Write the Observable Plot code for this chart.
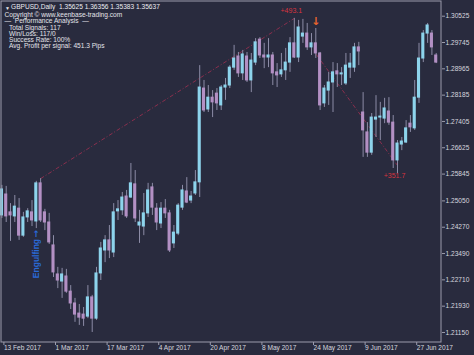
<!DOCTYPE html>
<html><head><meta charset="utf-8">
<script src="https://cdn.jsdelivr.net/npm/d3@7"></script>
<script src="https://cdn.jsdelivr.net/npm/@observablehq/plot@0.6"></script>
<style>
html,body{margin:0;padding:0;background:#292b3e;}
#chart{width:474px;height:355px;overflow:hidden;}
</style></head><body><div id="chart"></div>
<script>
const opens = [1.2462,1.2524,1.2471,1.2459,1.2482,1.2402,1.2456,1.2471,1.2444,1.2557,
1.2471,1.2441,1.2373,1.2287,1.2266,1.2281,1.2236,1.2201,1.2171,1.2168,
1.2162,1.2219,1.2156,1.2290,1.2358,1.2388,1.2352,1.2474,1.2477,1.2518,
1.2515,1.2554,1.2432,1.2429,1.2468,1.2545,1.2482,1.2438,1.2482,1.2468,
1.2379,1.2408,1.2485,1.2533,1.2506,1.2527,1.2560,1.2838,1.2776,1.2811,
1.2823,1.2788,1.2841,1.2847,1.2900,1.2933,1.2883,1.2933,1.2862,1.2915,
1.2983,1.2936,1.2930,1.2936,1.2886,1.2880,1.2892,1.2915,1.2972,1.2930,
1.2992,1.3001,1.2960,1.2972,1.2942,1.2794,1.2832,1.2856,1.2889,1.2880,
1.2853,1.2900,1.2900,1.2960,1.2767,1.2708,1.2648,1.2746,1.2752,1.2749,
1.2770,1.2737,1.2625,1.2672,1.2678,1.2734,1.2720,1.2811,1.2927,1.3001,
1.3001,1.2936];
const closes = [1.2539,1.2459,1.2462,1.2488,1.2402,1.2456,1.2474,1.2447,1.2557,1.2447,
1.2441,1.2382,1.2293,1.2269,1.2287,1.2236,1.2201,1.2168,1.2159,1.2156,
1.2219,1.2156,1.2290,1.2364,1.2388,1.2358,1.2471,1.2480,1.2515,1.2459,
1.2557,1.2453,1.2441,1.2468,1.2536,1.2485,1.2441,1.2482,1.2468,1.2358,
1.2411,1.2491,1.2536,1.2500,1.2518,1.2560,1.2841,1.2773,1.2811,1.2797,
1.2794,1.2841,1.2847,1.2900,1.2927,1.2883,1.2939,1.2862,1.2921,1.2975,
1.2936,1.2930,1.2936,1.2883,1.2877,1.2892,1.2915,1.2972,1.2930,1.3019,
1.3001,1.2960,1.2972,1.2942,1.2788,1.2838,1.2856,1.2886,1.2880,1.2883,
1.2906,1.2912,1.2960,1.2948,1.2714,1.2648,1.2752,1.2752,1.2755,1.2779,
1.2737,1.2625,1.2675,1.2681,1.2720,1.2723,1.2811,1.2927,1.3001,1.3025,
1.2960,1.2915];
const highs = [1.2551,1.2548,1.2497,1.2521,1.2512,1.2471,1.2482,1.2506,1.2563,1.2571,
1.2480,1.2468,1.2402,1.2308,1.2305,1.2302,1.2254,1.2216,1.2198,1.2189,
1.2254,1.2225,1.2308,1.2382,1.2402,1.2432,1.2497,1.2506,1.2530,1.2536,
1.2616,1.2595,1.2477,1.2527,1.2557,1.2557,1.2497,1.2500,1.2509,1.2477,
1.2432,1.2497,1.2551,1.2574,1.2533,1.2595,1.2906,1.2862,1.2847,1.2832,
1.2838,1.2847,1.2868,1.2906,1.2966,1.2945,1.2951,1.2945,1.2942,1.2986,
1.2989,1.2972,1.2986,1.2945,1.2912,1.2942,1.2957,1.2989,1.3046,1.3040,
1.3043,1.3031,1.3001,1.3016,1.2945,1.2847,1.2886,1.2915,1.2912,1.2900,
1.2942,1.2942,1.2972,1.2975,1.2826,1.2737,1.2764,1.2817,1.2797,1.2809,
1.2811,1.2758,1.2684,1.2693,1.2743,1.2758,1.2862,1.2972,1.3010,1.3031,
1.3010,1.2942];
const lows = [1.2453,1.2441,1.2385,1.2441,1.2388,1.2397,1.2441,1.2429,1.2423,1.2441,
1.2417,1.2376,1.2278,1.2245,1.2216,1.2231,1.2183,1.2145,1.2136,1.2133,
1.2156,1.2115,1.2151,1.2269,1.2322,1.2334,1.2337,1.2447,1.2462,1.2453,
1.2512,1.2441,1.2379,1.2402,1.2456,1.2462,1.2417,1.2423,1.2453,1.2352,
1.2364,1.2402,1.2477,1.2497,1.2497,1.2521,1.2515,1.2767,1.2767,1.2752,
1.2773,1.2773,1.2803,1.2838,1.2892,1.2871,1.2862,1.2856,1.2826,1.2906,
1.2927,1.2897,1.2900,1.2847,1.2841,1.2871,1.2862,1.2886,1.2927,1.2915,
1.2972,1.2951,1.2936,1.2927,1.2773,1.2782,1.2788,1.2767,1.2841,1.2847,
1.2847,1.2868,1.2886,1.2906,1.2634,1.2634,1.2640,1.2693,1.2684,1.2734,
1.2729,1.2601,1.2586,1.2654,1.2675,1.2708,1.2714,1.2794,1.2915,1.2972,
1.2936,1.2912];

const xTickIndex = [0,12,24,36,48,60,72,84,96];
const xTickLabels = ["13 Feb 2017","1 Mar 2017","17 Mar 2017","4 Apr 2017","20 Apr 2017","8 May 2017","24 May 2017","9 Jun 2017","27 Jun 2017"];
const yTicks = [1.30525,1.29745,1.28965,1.28185,1.27405,1.26625,1.25845,1.25050,1.24270,1.23490,1.22710,1.21930,1.21150];

const headerLine = "GBPUSD,Daily  1.35625 1.36356 1.35383 1.35637";
const infoLines = ["Copyright © www.keenbase-trading.com","—  Performance Analysis  —","Total Signals: 117","Win/Loss: 117/0","Success Rate: 100%","Avg. Profit per signal: 451.3 Pips"];

const signalStart = [9, 73];
const signalStartPrice = [1.2571, 1.2941];
const signalEnd = [68, 92];
const signalEndPrice = [1.3046, 1.2610];
const signalProfit = ["+493.1", "+351.7"];
const engulfingBar = 8;
const exitArrowBar = 73;

const candles = opens.map((o, i) => ({i, o, c: closes[i], h: highs[i], l: lows[i]}));
const signals = signalStart.map((s, k) => ({x1: s, y1: signalStartPrice[k], x2: signalEnd[k], y2: signalEndPrice[k], label: signalProfit[k]}));

const BULL = "#8dd4ec", BEAR = "#b390c4", WICK = "#8c8ca6";
const BG = "#292b3e", AX = "#9c9cac", TXT = "#d6d6de";

// info panel layout (screen offsets)
const infoX = [4, 4, 8.5, 8.5, 8.5, 8.5];
const infoMarks = infoLines.map((line, k) =>
  Plot.text([line], {text: d => d, frameAnchor: "top-left", dx: infoX[k], dy: 14.7 + k * 6.15,
    textAnchor: "start", lineAnchor: "middle", fill: "#e4e4ea"}));

const chart = Plot.plot({
  width: 474, height: 355,
  marginLeft: 0, marginRight: 33, marginTop: 0, marginBottom: 13,
  style: {background: BG, color: TXT, fontFamily: "'Liberation Sans', Arial, sans-serif", fontSize: "6.6px"},
  x: {domain: [-0.326, 102.23]},
  y: {domain: [1.20853, 1.30990]},
  marks: [
    Plot.link(signals, {x1: "x1", y1: "y1", x2: "x2", y2: "y2", stroke: "#9a2f50", strokeWidth: 1, strokeDasharray: "4,2,1,2", strokeOpacity: 0.85}),
    Plot.ruleX(candles, {x: "i", y1: "l", y2: "h", stroke: WICK, strokeWidth: 1, clip: true}),
    Plot.rect(candles, {x1: d => d.i - 0.36, x2: d => d.i + 0.36, y1: d => Math.min(d.o, d.c), y2: d => Math.max(d.o, d.c), fill: d => d.c >= d.o ? BULL : BEAR, insetTop: -0.5, insetBottom: -0.5, clip: true}),
    Plot.text(signals.filter(d => d.y2 > d.y1), {x: "x2", y: "y2", text: "label", fill: "#d8343e", dx: -3, dy: -8, fontSize: 7}),
    Plot.text(signals.filter(d => d.y2 < d.y1), {x: "x2", y: "y2", text: "label", fill: "#d8343e", dx: -3, dy: 10.5, fontSize: 7}),
    Plot.text([candles[exitArrowBar]], {x: "i", y: "h", text: () => "↓", fill: "#e8642e", dy: -7, fontSize: 11, fontWeight: "bold", fontFamily: "DejaVu Sans"}),
    Plot.text([candles[engulfingBar]], {x: "i", y: "l", text: () => "↑", fill: "#2a6ad8", dy: 6, fontSize: 9, fontWeight: "bold", fontFamily: "DejaVu Sans"}),
    Plot.text([candles[engulfingBar]], {x: "i", y: "l", text: () => "Engulfing", fill: "#2a6ad8", dy: 30, rotate: -90, fontSize: 8.5, fontWeight: "bold"}),
    Plot.frame({stroke: AX, inset: 0.5}),
    Plot.axisY({ticks: yTicks, anchor: "right", tickFormat: d => d.toFixed(5), tickSize: 3, tickPadding: 1, stroke: AX, fill: TXT}),
    Plot.axisX({ticks: xTickIndex, anchor: "bottom", tickFormat: d => xTickLabels[xTickIndex.indexOf(d)], tickSize: 3, tickPadding: 0, textAnchor: "start", dx: 2, stroke: AX, fill: TXT}),
    Plot.text(["▼"], {text: d => d, frameAnchor: "top-left", dx: 4.5, dy: 6, fill: "#e8e8ee", fontSize: 5}),
    Plot.text([headerLine], {text: d => d, frameAnchor: "top-left", dx: 10.5, dy: 6, textAnchor: "start", lineAnchor: "middle", fill: "#ececf2"}),
    ...infoMarks
  ]
});
document.getElementById("chart").appendChild(chart);
</script></body></html>
